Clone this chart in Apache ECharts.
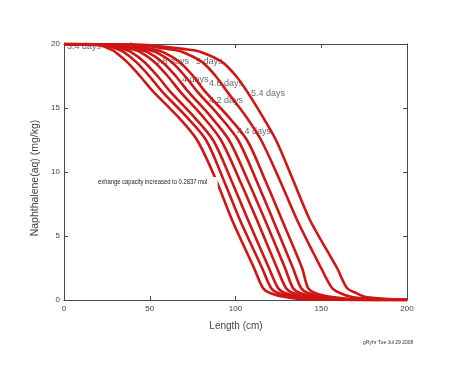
<!DOCTYPE html>
<html>
<head>
<meta charset="utf-8">
<script src="https://cdn.jsdelivr.net/npm/echarts@6/dist/echarts.min.js"></script>
<style>html,body{margin:0;padding:0;background:#fff}#c{width:474px;height:366px}</style>
</head>
<body>
<div id="c"></div>
<script>
// Concentration levels (mg/kg) at which the length of each front was read
const concLevels = [20, 19.95, 19.9, 19.6, 19.4, 18.6, 17.5, 16.3, 14.4, 12.5, 9.4, 6.25, 2.5, 0.94, 0.55, 0.23, 0.04, 0];
// Length (cm) of each curve at those levels
const len_3_4 = [0, 15.2, 21.0, 26.8, 29.7, 36.7, 44.3, 51.9, 65.9, 77.6, 88.6, 98.0, 110.8, 116.0, 120.1, 128.9, 141.7, 200];
const len_3_6 = [0, 17.7, 23.8, 31.0, 34.5, 42.0, 49.7, 57.1, 70.8, 82.8, 93.0, 102.6, 115.5, 120.7, 124.8, 133.5, 146.9, 200];
const len_3_8 = [0, 19.9, 26.3, 34.8, 38.7, 46.8, 54.5, 61.8, 75.2, 86.9, 97.4, 107.3, 119.5, 124.8, 128.9, 137.6, 151.6, 200];
const len_4_0 = [0, 22.7, 29.4, 39.4, 44.0, 52.7, 60.4, 67.6, 80.5, 91.5, 102.3, 112.5, 124.2, 129.4, 133.5, 142.3, 156.9, 200];
const len_4_2 = [0, 24.9, 31.8, 43.1, 48.2, 57.3, 65.1, 72.3, 85.1, 96.2, 107.0, 117.2, 128.9, 133.5, 137.6, 146.9, 162.1, 200];
const len_4_4 = [0, 27.5, 34.6, 47.3, 52.9, 62.7, 70.5, 77.6, 90.4, 101.5, 112.0, 121.9, 133.5, 138.2, 142.3, 151.6, 166.8, 200];
const len_4_6 = [0, 29.7, 37.1, 51.0, 57.1, 67.3, 75.3, 82.2, 95.3, 106.7, 117.2, 127.1, 138.8, 142.3, 146.4, 156.3, 171.4, 200];
const len_5_0 = [0, 35.8, 44.0, 61.2, 68.7, 80.4, 88.4, 95.0, 105.8, 114.9, 125.7, 135.9, 149.9, 156.3, 160.9, 167.9, 183.1, 200];
const len_5_4 = [0, 41.4, 50.1, 70.6, 79.3, 92.1, 100.3, 106.7, 115.5, 123.6, 133.5, 143.4, 159.2, 165.0, 170.3, 176.1, 194.2, 200];
const curves = [len_3_4, len_3_6, len_3_8, len_4_0, len_4_2, len_4_4, len_4_6, len_5_0, len_5_4];

// Curve labels: position (length, concentration) and text
const labelX = [1.75, 28.0, 53.1, 77.0, 68.8, 84.5, 109.0, 84.5, 100.9];
const labelY = [19.77, 19.77, 18.6, 18.6, 17.2, 16.95, 16.1, 15.6, 13.2];
const labelText = ['3.4 days', '3.6 days', '3.8 days', '5 days', '4 days', '4.6 days', '5.4 days', '4.2 days', '4.4 days'];
const curveNames = ['3.4 days', '3.6 days', '3.8 days', '4 days', '4.2 days', '4.4 days', '4.6 days', '5 days', '5.4 days'];

const xTicks = [0, 200, 50];
const yTicks = [0, 20, 5];

const chart = echarts.init(document.getElementById('c'), null, {renderer: 'canvas'});
const FONT = 'Liberation Sans, Arial, sans-serif';
const axisCol = '#4a4a4a';
const lineCol = '#d01515';

const series = curves.map((lens, k) => ({
  type: 'line',
  name: curveNames[k],
  data: concLevels.map((c, i) => [lens[i], c]),
  showSymbol: false,
  symbol: 'none',
  smooth: 0.3,
  lineStyle: {color: lineCol, width: 2.6},
  z: 3,
  silent: true
}));
series.push({
  type: 'scatter',
  data: labelX.map((x, i) => [x, labelY[i], labelText[i]]),
  symbolSize: 0,
  z: 1,
  silent: true,
  label: {
    show: true, position: 'right', distance: 0,
    formatter: p => p.data[2],
    fontFamily: FONT, fontSize: 9, color: '#444',
    align: 'left', verticalAlign: 'middle'
  }
});

const baseAxis = {
  splitLine: {show: false},
  axisLine: {show: true, onZero: false, lineStyle: {color: axisCol, width: 1}},
  axisTick: {show: true, inside: true, length: 4, lineStyle: {color: axisCol}},
};

chart.setOption({
  animation: false,
  backgroundColor: '#fff',
  grid: {left: 64, right: 67, top: 44, bottom: 66},
  xAxis: [
    Object.assign({}, baseAxis, {type: 'value', min: xTicks[0], max: xTicks[1], interval: xTicks[2], position: 'bottom',
      axisLabel: {fontFamily: FONT, fontSize: 8, color: '#444', margin: 5}}),
    Object.assign({}, baseAxis, {type: 'value', min: xTicks[0], max: xTicks[1], interval: xTicks[2], position: 'top',
      axisLabel: {show: false}})
  ],
  yAxis: [
    Object.assign({}, baseAxis, {type: 'value', min: yTicks[0], max: yTicks[1], interval: yTicks[2], position: 'left',
      axisLabel: {fontFamily: FONT, fontSize: 8, color: '#444', margin: 4}}),
    Object.assign({}, baseAxis, {type: 'value', min: yTicks[0], max: yTicks[1], interval: yTicks[2], position: 'right',
      axisLabel: {show: false}})
  ],
  series: series,
  graphic: [
    {type: 'text', x: 236, y: 326, z: 10,
      style: {text: 'Length (cm)', font: '10px ' + FONT, fill: '#444', align: 'center', verticalAlign: 'middle'}},
    {type: 'text', x: 35, y: 178, rotation: Math.PI / 2, z: 10,
      style: {text: 'Naphthalene(aq) (mg/kg)', font: '10.5px ' + FONT, fill: '#444', align: 'center', verticalAlign: 'middle'}},
    {type: 'text', x: 98, y: 182, scaleX: 0.73, z: 10,
      style: {text: 'exhange capacity increased to 0.2837 mol', font: '8px ' + FONT, fill: '#222',
        align: 'left', verticalAlign: 'middle', backgroundColor: '#fff', padding: [1, 14, 1, 0]}},
    {type: 'text', x: 363, y: 343, z: 10,
      style: {text: 'gRyhr Tue Jul 29 2008', font: '5px ' + FONT, fill: '#333', align: 'left', verticalAlign: 'middle'}}
  ]
});
</script>
</body>
</html>
